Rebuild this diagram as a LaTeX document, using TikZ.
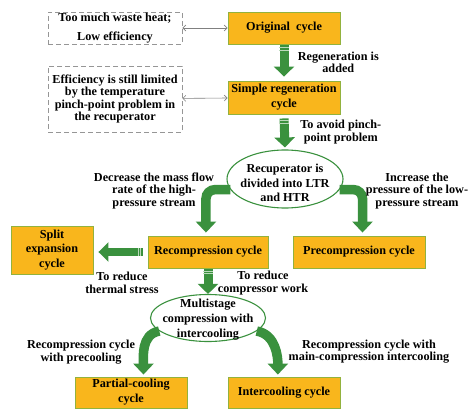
\documentclass[tikz,border=0pt]{standalone}
\usepackage{fontspec}
\setmainfont{Liberation Serif}
\usetikzlibrary{arrows.meta,shapes.geometric}
\definecolor{boxfill}{RGB}{249,182,28}
\definecolor{boxline}{RGB}{146,178,62}
\definecolor{arrgreen}{RGB}{58,145,62}
\definecolor{dashgray}{RGB}{150,150,150}
\begin{document}
\begin{tikzpicture}[x=1pt,y=-1pt,
  font=\fontsize{12.2}{12.5}\selectfont\bfseries,
  cycle/.style={draw=boxline,fill=boxfill,line width=0.9pt,minimum width=112pt,minimum height=32pt,align=center,inner sep=1pt},
  note/.style={draw=dashgray,dash pattern=on 5pt off 3pt,line width=0.8pt,minimum width=134pt,align=center,inner sep=0pt},
  idea/.style={ellipse,draw=arrgreen,line width=1.1pt,inner sep=0pt},
  fat/.style={draw=arrgreen,line width=9pt,-{Triangle[width=20pt,length=10pt]}},
  bendy/.style={draw=arrgreen,line width=9.5pt,-{Triangle[width=20pt,length=11pt]}},
  stripe/.style={draw=arrgreen!35!white,line width=0.7pt},
  link/.style={draw=gray,line width=0.6pt,{Straight Barb[length=3pt,width=6pt]}-{Straight Barb[length=3pt,width=6pt]}}]
  \useasboundingbox (0,0) rectangle (474,415);

  \node[note,minimum height=32pt] (waste) at (115,28) {Too much waste heat;\\[6.5pt]Low efficiency};
  \node[cycle] (orig) at (284,28) {Original~~cycle};
  \draw[link] (waste) -- (orig);

  \node[note,minimum height=66pt] (limit) at (115,99) {Efficiency is still limited\\by the temperature\\pinch-point problem in\\the recuperator};
  \node[cycle,minimum height=33pt] (simple) at (284,97.5) {Simple regeneration\\[2.5pt]cycle};
  \draw[link] (limit) -- (simple);

  \draw[fat,shorten <=1pt,shorten >=4pt] (orig.south) -- (simple.north) node[midway,right=6pt,align=center] (regen) {Regeneration is\\added};
  \draw[stripe] ([xshift=-5pt,yshift=-3pt]orig.south) -- ++(10,0);
  \draw[stripe] ([xshift=-5pt,yshift=-5.5pt]orig.south) -- ++(10,0);

  \node[idea,minimum width=116pt,minimum height=58pt] (recup) at (285,179) {};
  \node[align=center] (recup-txt) at (285,183) {Recuperator is\\[2pt]divided into LTR\\[2pt]and HTR};
  \draw[fat,shorten <=4pt,shorten >=2pt] (simple.south) -- (recup.north) node[midway,right=8pt,align=center] (avoid) {To avoid pinch-\\point problem};
  \draw[stripe] ([xshift=-5pt,yshift=-6pt]simple.south) -- ++(10,0);
  \draw[stripe] ([xshift=-5pt,yshift=-8.5pt]simple.south) -- ++(10,0);

  \node[cycle,minimum width=120pt] (recomp) at (208,252) {Recompression cycle};
  \node[cycle,minimum width=132pt] (precomp) at (359,252) {Precompression cycle};
  \node[cycle,minimum width=82pt,minimum height=48pt] (split) at (52,250) {Split\\[2pt]expansion\\[2pt]cycle};

  \draw[bendy,rounded corners=9pt,shorten >=3pt] (recup.191) -| (recomp.97);
  \draw[bendy,rounded corners=9pt,shorten >=3pt] (recup.349) -| (precomp.78);
  \node[align=center] (mass) at (154,191) {Decrease the mass flow\\rate of the high-\\pressure stream};
  \node[align=center] (press) at (417,191) {Increase the\\pressure of the low-\\pressure stream};

  \draw[fat,-{Triangle[width=19pt,length=10pt]},line width=8pt,shorten <=5pt,shorten >=5pt] (recomp.west) -- (recomp.west -| split.east);
  \draw[stripe] ([xshift=-7pt,yshift=-4pt]recomp.west) -- ++(0,-8);
  \draw[stripe] ([xshift=-9.5pt,yshift=-4pt]recomp.west) -- ++(0,-8);

  \node[idea,minimum width=115pt,minimum height=47pt] (multi) at (208,318) {};
  \node[align=center] (multi-txt) at (208,320) {Multistage\\[2.4pt]compression with\\[2.4pt]intercooling};
  \draw[fat,shorten <=1pt,shorten >=0pt] (recomp.south) -- (multi.north);
  \draw[stripe] ([xshift=-5pt,yshift=-2.5pt]recomp.south) -- ++(10,0);
  \draw[stripe] ([xshift=-5pt,yshift=-5pt]recomp.south) -- ++(10,0);
  \node[align=center] (thermal) at (122,283) {To reduce\\thermal stress};
  \node[align=center] (work) at (263,283) {To reduce\\compressor work};

  \node[cycle,minimum height=31pt] (partial) at (131,392.5) {Partial-cooling\\[2.5pt]cycle};
  \node[cycle,minimum height=31pt] (inter) at (284,392.5) {Intercooling cycle};
  \draw[bendy,shorten >=2pt] (multi.195) to[out=190,in=90] (partial.52);
  \draw[bendy,shorten >=2pt] (multi.345) to[out=-10,in=90] (inter.111);
  \node[align=center] (precool) at (81,352) {Recompression cycle\\with precooling};
  \node[align=center] (maincool) at (369,351.5) {Recompression cycle with\\main-compression intercooling};
\end{tikzpicture}
\end{document}
